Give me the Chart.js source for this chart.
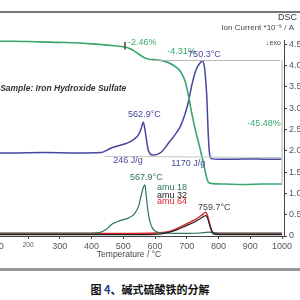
<!DOCTYPE html>
<html>
<head>
<meta charset="utf-8">
<script src="https://cdn.jsdelivr.net/npm/chart.js@4.4.1/dist/chart.umd.min.js"></script>
<style>
  html, body { margin: 0; padding: 0; background: #fff; overflow: hidden; }
  #wrap { position: relative; width: 300px; height: 300px; overflow: hidden; }
  #chart { position: absolute; left: -20px; top: 0; }
  .rule { position: absolute; left: 0; width: 300px; }
  #caption { position: absolute; left: 0; top: 281px; width: 300px; text-align: center;
    font: bold 11px 'Noto Sans CJK SC', sans-serif; color: #111; }
</style>
</head>
<body>
<div id="wrap">
  <div class="rule" style="top:11px;height:2px;background:#777"></div>
  <canvas id="chart" width="320" height="262"></canvas>
  <div class="rule" style="top:268px;height:3px;background:#999"></div>
  <div id="caption">图 <span style="color:#2a3f8f">4</span>、碱式硫酸铁的分解</div>
</div>
<script>
// --- данные ---
const xTicks = [100, 200, 300, 400, 500, 600, 700, 800, 900, 1000];
const yTicks = [0, 0.5, 1, 1.5, 2, 2.5, 3, 3.5, 4, 4.5];

// TG (зелёная)
const tgTemp = [80, 150, 220, 320, 400, 450, 500, 520, 535, 550, 565, 580, 595, 625, 655, 680, 695, 705, 715, 728, 740, 752, 762, 768, 780, 820, 880, 940, 1000];
const tgVal  = [4.57, 4.57, 4.56, 4.54, 4.51, 4.48, 4.44, 4.40, 4.34, 4.26, 4.19, 4.15, 4.14, 4.11, 4.02, 3.86, 3.62, 3.30, 2.90, 2.45, 2.10, 1.72, 1.38, 1.26, 1.23, 1.22, 1.21, 1.22, 1.22];

// DSC (синяя)
const dscTemp = [80, 150, 250, 350, 430, 460, 490, 515, 535, 548, 556, 562.9, 568, 573, 578, 584, 592, 605, 620, 640, 660, 680, 695, 705, 715, 728, 740, 750.3, 755, 759, 763, 767, 772, 780, 800, 850, 900, 950, 1000];
const dscVal  = [1.95, 1.95, 1.96, 1.95, 1.96, 2.06, 2.13, 2.19, 2.28, 2.38, 2.52, 2.67, 2.50, 2.25, 2.03, 1.93, 1.90, 1.91, 1.97, 2.16, 2.35, 2.58, 2.88, 3.15, 3.52, 3.88, 4.05, 4.10, 3.98, 3.70, 3.25, 2.45, 1.90, 1.81, 1.80, 1.80, 1.81, 1.80, 1.80];

// Ion current: amu 18, 32, 64
const ms18Temp = [80, 200, 300, 400, 425, 445, 465, 490, 515, 535, 548, 556, 562, 567.9, 572, 577, 583, 592, 605, 630, 680, 740, 770, 800, 900, 1000];
const ms18Val  = [0.07, 0.07, 0.07, 0.07, 0.08, 0.15, 0.28, 0.36, 0.42, 0.52, 0.70, 0.95, 1.12, 1.20, 0.95, 0.62, 0.36, 0.18, 0.10, 0.07, 0.06, 0.07, 0.09, 0.07, 0.07, 0.07];
const ms32Temp = [80, 300, 500, 600, 640, 670, 700, 725, 745, 755, 760, 765, 772, 780, 790, 850, 1000];
const ms32Val  = [0.03, 0.03, 0.03, 0.04, 0.08, 0.15, 0.25, 0.33, 0.42, 0.47, 0.48, 0.42, 0.25, 0.08, 0.04, 0.03, 0.03];
const ms64Temp = [80, 300, 500, 600, 640, 670, 700, 725, 745, 755, 759.7, 764, 770, 776, 782, 790, 850, 1000];
const ms64Val  = [0.06, 0.06, 0.06, 0.07, 0.10, 0.18, 0.29, 0.38, 0.48, 0.54, 0.56, 0.50, 0.35, 0.18, 0.08, 0.06, 0.06, 0.06];

// вспомогательные линии
const stepLineTemp = [590, 995];
const stepLineVal  = [4.12, 4.12];
const dscBaseTemp = [440, 1000];
const dscBaseVal  = [1.87, 1.84];
const lossMarkTemp = [1000, 1000];
const lossMarkVal  = [4.12, 1.24];
const stepMarkTemp = [505, 505];
const stepMarkVal  = [4.55, 4.38];

const GREEN = '#3aa66d', BLUE = '#45479e', TEAL = '#2b7262', RED = '#d8262c', BLACK = '#222';
const FONT = "'Liberation Sans', Arial, sans-serif";

const toPts = (xs, ys) => xs.map((x, i) => ({ x, y: ys[i] }));

// подписи на графике (в координатах данных)
const notes = [
  { text: '-2.46%', t: 515, v: 4.55, color: GREEN },
  { text: '-4.31%', t: 638, v: 4.32, color: GREEN },
  { text: '750.3°C', t: 704, v: 4.25, color: BLUE },
  { text: '-45.48%', t: 890, v: 2.65, color: GREEN },
  { text: 'Sample: Iron Hydroxide Sulfate', t: 112, v: 3.45, color: '#333', font: 'italic bold 8.5px ' + FONT },
  { text: '562.9°C', t: 515, v: 2.86, color: BLUE },
  { text: '246 J/g', t: 468, v: 1.76, color: BLUE },
  { text: '1170 J/g', t: 651, v: 1.71, color: BLUE },
  { text: '567.9°C', t: 521, v: 1.38, color: TEAL },
  { text: 'amu 18', t: 606, v: 1.13, color: TEAL },
  { text: 'amu 32', t: 606, v: 0.96, color: BLACK },
  { text: 'amu 64', t: 606, v: 0.80, color: RED },
  { text: '759.7°C', t: 735, v: 0.68, color: '#444' }
];

const notesPlugin = {
  id: 'notes',
  afterDatasetsDraw(chart) {
    const { ctx, scales } = chart;
    ctx.save();
    ctx.textBaseline = 'middle';
    ctx.textAlign = 'left';
    notes.forEach(n => {
      ctx.font = n.font || '9px ' + FONT;
      ctx.fillStyle = n.color;
      ctx.fillText(n.text, scales.x.getPixelForValue(n.t), scales.y.getPixelForValue(n.v));
    });
    // заголовки осей (канвас сдвинут на 20px влево)
    ctx.fillStyle = '#333';
    ctx.font = '9px ' + FONT;
    ctx.textAlign = 'right';
    ctx.fillText('DSC', 317, 18);
    ctx.fillStyle = '#444';
    ctx.font = '8px ' + FONT;
    ctx.fillText('Ion Current *10⁻⁹ / A', 314, 28);
    ctx.textAlign = 'left';
    ctx.font = '7px ' + FONT;
    ctx.fillText('↓exo', 286, 43);
    ctx.textAlign = 'center';
    ctx.font = '8.5px ' + FONT;
    ctx.fillText('Temperature / °C', 149, 255);
    ctx.restore();
  }
};

const line = (label, xs, ys, color, width, smooth = true) => ({
  label, data: toPts(xs, ys), borderColor: color, borderWidth: width,
  pointRadius: 0, fill: false,
  cubicInterpolationMode: smooth ? 'monotone' : 'default', tension: 0
});

new Chart(document.getElementById('chart'), {
  type: 'line',
  data: {
    datasets: [
      line('step', stepLineTemp, stepLineVal, '#b5b5b5', 1, false),
      line('dscBase', dscBaseTemp, dscBaseVal, '#c4c4c4', 1, false),
      line('loss', lossMarkTemp, lossMarkVal, '#c8d8d0', 1, false),
      line('mark', stepMarkTemp, stepMarkVal, '#555', 1, false),
      line('TG', tgTemp, tgVal, GREEN, 1.6),
      line('DSC', dscTemp, dscVal, BLUE, 1.5),
      line('amu 32', ms32Temp, ms32Val, BLACK, 1.2),
      line('amu 18', ms18Temp, ms18Val, TEAL, 1.2),
      line('amu 64', ms64Temp, ms64Val, RED, 1.4)
    ]
  },
  options: {
    responsive: false,
    animation: false,
    layout: { padding: { top: 40, left: 10, right: 0, bottom: 0 } },
    plugins: { legend: { display: false }, tooltip: { enabled: false } },
    scales: {
      x: {
        type: 'linear', min: 80, max: 1006,
        afterBuildTicks: s => { s.ticks = xTicks.map(v => ({ value: v })); },
        afterFit: s => { s.height = 26; },
        border: { display: true, color: '#444', width: 1 },
        grid: { drawOnChartArea: false, tickLength: 3, color: '#444' },
        ticks: {
          color: '#555', padding: 2, maxRotation: 0, autoSkip: false,
          callback: v => String(v),
          font: c => ({ family: FONT, size: c.tick && c.tick.value === 200 ? 6.5 : 9 })
        }
      },
      y: {
        position: 'right', min: 0, max: 4.6,
        afterBuildTicks: s => { s.ticks = yTicks.map(v => ({ value: v })); },
        afterFit: s => { s.width = 16; },
        border: { display: true, color: '#444', width: 1 },
        grid: { drawOnChartArea: false, tickLength: 3, color: '#444' },
        ticks: {
          color: '#555', padding: 2, font: { family: FONT, size: 9 },
          callback: v => v === 0 ? '0' : v.toFixed(1)
        }
      }
    }
  },
  plugins: [notesPlugin]
});
</script>
</body>
</html>
